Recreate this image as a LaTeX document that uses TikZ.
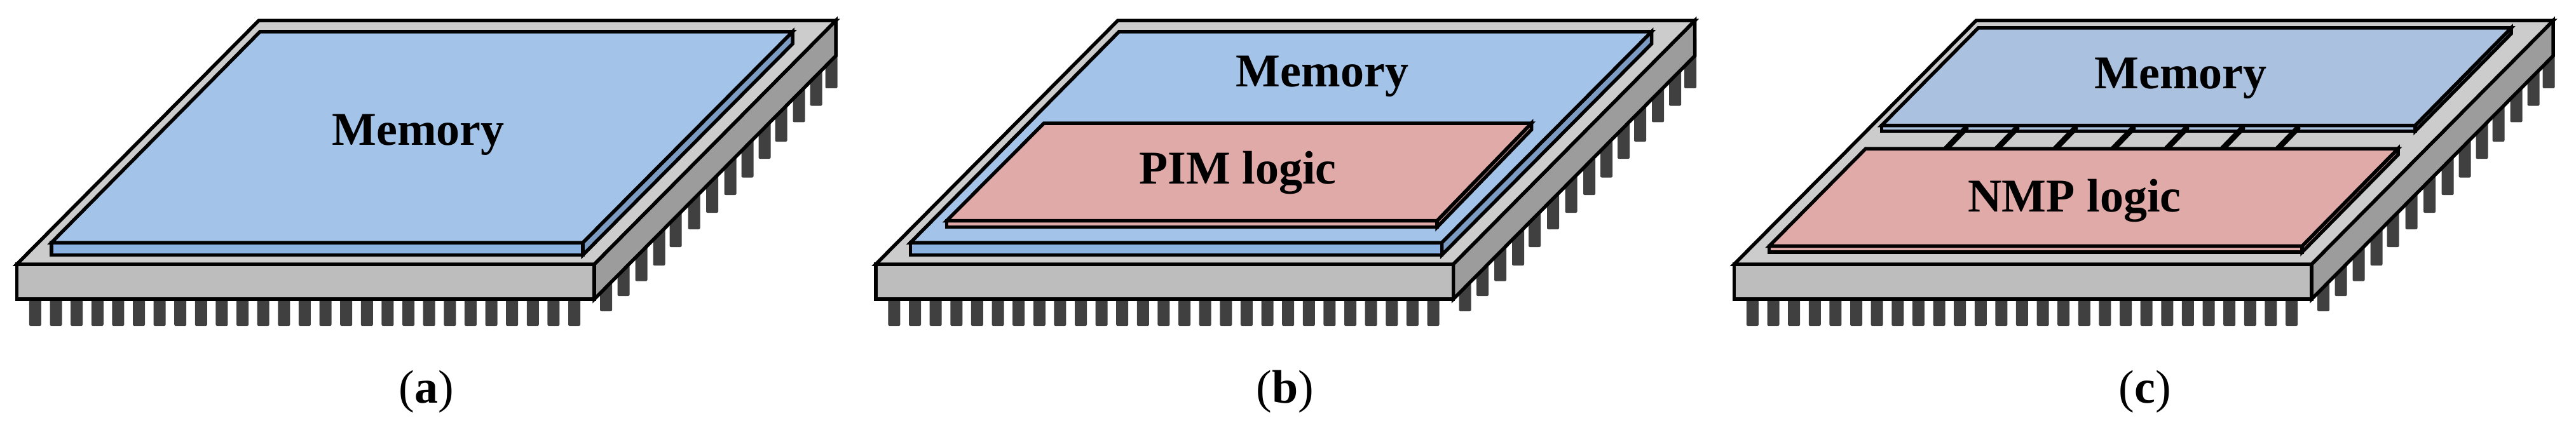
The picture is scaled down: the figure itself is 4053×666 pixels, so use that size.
\documentclass[tikz,border=0pt]{standalone}
\usepackage{fontspec}
\setmainfont{Liberation Serif}
\definecolor{ctop}{HTML}{CCCCCC}
\definecolor{cfront}{HTML}{BDBDBD}
\definecolor{cside}{HTML}{9C9C9C}
\definecolor{cpin}{HTML}{404040}
\definecolor{mtop}{HTML}{A3C3E8}
\definecolor{mfront}{HTML}{8CB2E2}
\definecolor{mside}{HTML}{7C9CC4}
\definecolor{mtopc}{HTML}{ABC1E0}
\definecolor{ltop}{HTML}{E0AAA9}
\tikzset{
  face/.style={draw=black,line width=5.5pt,line join=miter,miter limit=10},
  pinshape/.style={fill=cpin,rounded corners=2pt},
  wirestyle/.style={draw=black,line width=9pt,line cap=round},
  lab/.style={anchor=base,inner sep=0pt,font=\fontsize{74}{74}\selectfont\bfseries},
  sublabel/.style={anchor=base,inner sep=0pt,font=\fontsize{74}{74}\selectfont}
}
% package: pins and the three faces
\newcommand{\pkgbody}{%
  \foreach \px/\py in {953.6/490,981/466,1009/442.6,1037/418,1063/389,1092/361,1120.5/335,1149/307,1176/279.5,1203/250,1229/223,1257/192.4,1284/166.5,1308/139}{
    \path[pinshape] (\px-9.5,\py-80) rectangle (\px+9.5,\py);
  }
  \foreach \i in {0,...,26}{
    \path[pinshape] ({55.4+\i*32.62-9.5},450) rectangle ({55.4+\i*32.62+9.5},513);
  }
  \filldraw[face,fill=cside] (1315,32.5) -- (1315,88) -- (935,471) -- (935,416) -- cycle;
  \filldraw[face,fill=cfront] (26.5,416) -- (935,416) -- (935,471) -- (26.5,471) -- cycle;
  \filldraw[face,fill=ctop] (407,32.5) -- (1315,32.5) -- (935,416) -- (26.5,416) -- cycle;
}
% slab: #1..#4 TLx TRx FLx FRx, #5 top y, #6 front y, #7 bottom y, #8 top fill, #9 front fill
\newcommand{\slab}[9]{%
  \filldraw[face,fill=#8!80!black] (#2,#5) -- (#2,{#5+#7-#6}) -- (#4,#7) -- (#4,#6) -- cycle;
  \filldraw[face,fill=#9] (#3,#6) -- (#4,#6) -- (#4,#7) -- (#3,#7) -- cycle;
  \filldraw[face,fill=#8] (#1,#5) -- (#2,#5) -- (#4,#6) -- (#3,#6) -- cycle;
}
\begin{document}
\begin{tikzpicture}[x=1pt,y=-1pt]
\useasboundingbox (0,0) rectangle (4053,666);
% (a)
\begin{scope}
  \pkgbody
  \filldraw[face,fill=mside] (1247,50) -- (1247,69) -- (917,401.5) -- (917,382) -- cycle;
  \filldraw[face,fill=mfront] (81,382) -- (917,382) -- (917,401.5) -- (81,401.5) -- cycle;
  \filldraw[face,fill=mtop] (409,50) -- (1247,50) -- (917,382) -- (81,382) -- cycle;
  \node[lab] (mema) at (658,228) {Memory};
  \node[sublabel] (capa) at (671,634) {(\textbf{a})};
\end{scope}
% (b)
\begin{scope}[xshift=1351.5pt]
  \pkgbody
  \filldraw[face,fill=mside] (1247,50) -- (1247,69) -- (917,401.5) -- (917,382) -- cycle;
  \filldraw[face,fill=mfront] (81,382) -- (917,382) -- (917,401.5) -- (81,401.5) -- cycle;
  \filldraw[face,fill=mtop] (409,50) -- (1247,50) -- (917,382) -- (81,382) -- cycle;
  \slab{291}{1058}{138}{909.5}{194}{347.5}{357.7}{ltop}{ltop}
  \node[lab] (memb) at (729,136) {Memory};
  \node[lab] (pim) at (596,289.7) {PIM logic};
  \node[sublabel] (capb) at (670.5,634) {(\textbf{b})};
\end{scope}
% (c)
\begin{scope}[xshift=2702pt]
  \pkgbody
  \slab{410.5}{1249}{258.5}{1098}{44}{197.5}{206.5}{mtopc}{mtopc}
  \foreach \w in {391,471,563,654,738,826,913}{
    \draw[wirestyle] (\w-31,234) -- (\w,202);
  }
  \slab{233.5}{1071}{81.7}{920}{234}{387.4}{397}{ltop}{ltop}
  \node[lab] (memc) at (729,140) {Memory};
  \node[lab] (nmp) at (562,333.5) {NMP logic};
  \node[sublabel] (capc) at (673,634) {(\textbf{c})};
\end{scope}
\end{tikzpicture}
\end{document}
